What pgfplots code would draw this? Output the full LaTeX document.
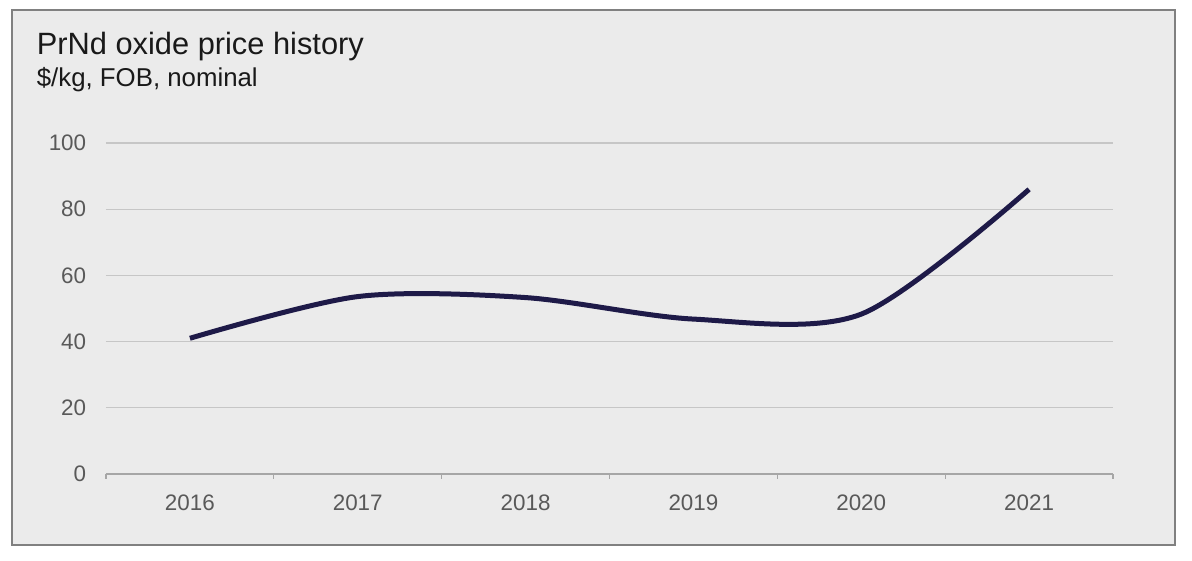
\documentclass[border=0pt]{standalone}
\usepackage{fontspec}
\setmainfont{Liberation Sans}
\usepackage{pgfplots}
\pgfplotsset{compat=1.18}
\definecolor{bgc}{HTML}{EBEBEB}
\definecolor{frame}{HTML}{808080}
\definecolor{gridc}{HTML}{C6C6C6}
\definecolor{axc}{HTML}{A6A6A6}
\definecolor{txt}{HTML}{595959}
\definecolor{linec}{HTML}{1E1A48}
\begin{document}
\begin{tikzpicture}[x=0.5pt,y=0.5pt]
\fill[white] (-106,-87) rectangle (1086,474);
\filldraw[fill=bgc, draw=frame, line width=1pt] (-94,-71) rectangle (1069,464);
\node[anchor=base west, inner sep=0pt, font=\fontsize{15.4pt}{18pt}\selectfont, text=black!90] at (-69.5,419) {PrNd oxide price history};
\node[anchor=base west, inner sep=0pt, font=\fontsize{12.9pt}{15pt}\selectfont, text=black!90] at (-69.5,387) {\$/kg, FOB, nominal};
\begin{axis}[
  at={(0,0)}, anchor=south west,
  scale only axis,
  width=503.5pt, height=165.5pt,
  xmin=-0.5, xmax=5.5, ymin=0, ymax=100,
  axis x line*=bottom,
  axis y line*=left,
  y axis line style={draw=none},
  ytick={0,20,...,100},
  ymajorgrids,
  major grid style={gridc, line width=0.6pt},
  xtick={0,...,5},
  xticklabels={2016,2017,2018,2019,2020,2021},
  minor xtick={-0.5,0.5,...,5.5},
  major tick length=0pt,
  minor tick length=2.5pt,
  tick align=outside,
  every tick/.style={axc, line width=0.6pt},
  x axis line style={axc, line width=0.8pt, -},
  ticklabel style={font=\fontsize{11.2pt}{13pt}\selectfont, text=txt},
  /pgf/number format/assume math mode=true,
  x tick label style={yshift=-7pt},
  y tick label style={xshift=-6.4pt},
  clip=false,
]
\addplot[linec, line width=2.5pt, smooth] coordinates {
  (0,41) (1,53.6) (2,53.3) (3,46.8) (4,48.3) (5,86)
};
\end{axis}
\end{tikzpicture}
\end{document}
